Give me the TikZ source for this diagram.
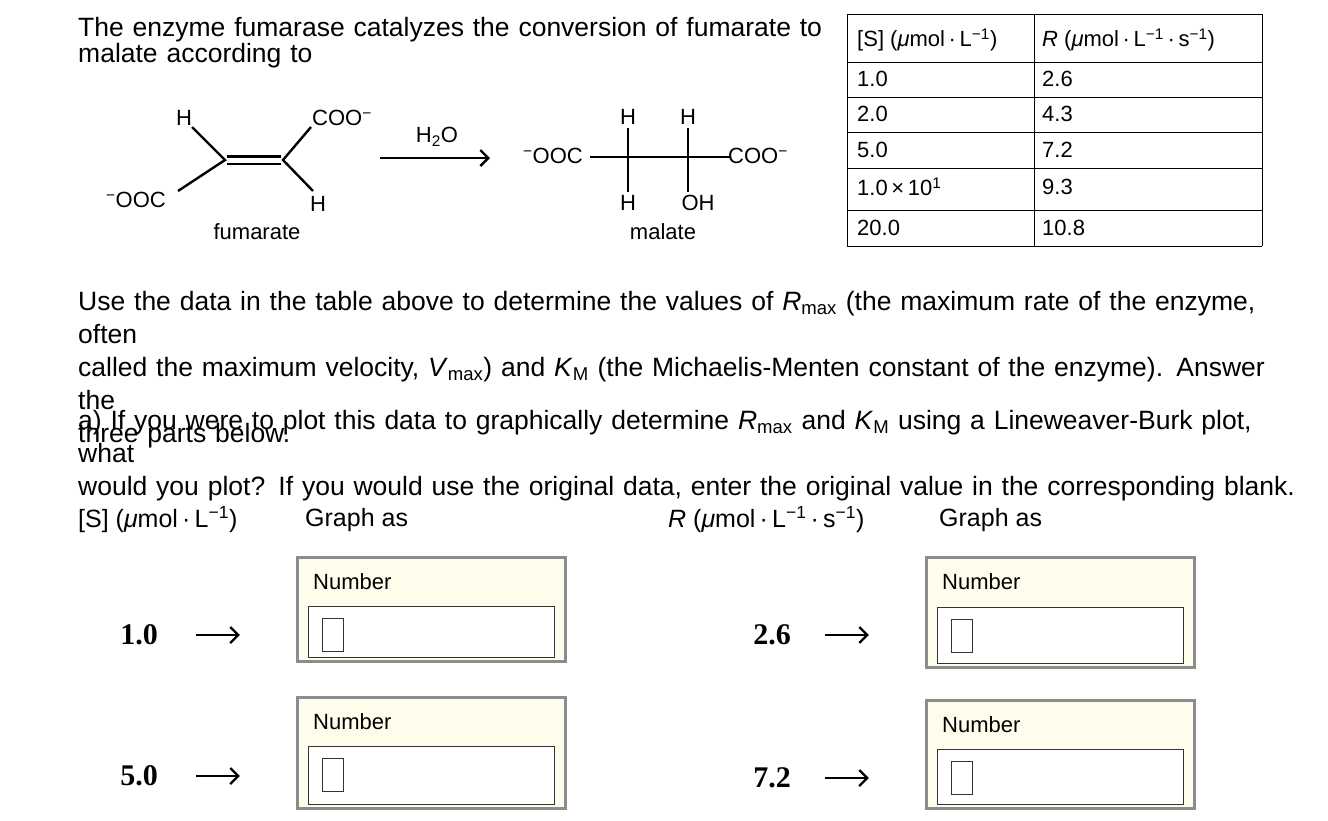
\documentclass[tikz,border=0pt]{standalone}
\usepackage{fontspec}
\usetikzlibrary{arrows.meta}
\setmainfont{Liberation Sans}
\newfontfamily\serifb{Liberation Serif}
\newcommand{\up}[1]{\textsuperscript{#1}}
\newcommand{\dn}[1]{\textsubscript{#1}}
\newcommand{\umol}{(\textit{μ}mol\,·\,L\up{−1})}
\newcommand{\umols}{(\textit{μ}mol\,·\,L\up{−1}\,·\,s\up{−1})}
\begin{document}
\begin{tikzpicture}[x=1pt,y=-1pt,
  txt/.style={font=\fontsize{26.5}{30}\selectfont,inner sep=0,anchor=west},
  sm/.style={font=\fontsize{22}{24}\selectfont,inner sep=0},
  cell/.style={font=\fontsize{22}{24}\selectfont,inner sep=0,anchor=west},
  lab/.style={font=\fontsize{25}{28}\selectfont,inner sep=0,anchor=west},
  bond/.style={line width=2.4pt},
  val/.style={font=\serifb\bfseries\fontsize{30}{32}\selectfont,inner sep=0},
  arr/.style={line width=2.4pt,-{Straight Barb[length=8pt,width=16pt,line width=2.4pt]}},
  outerbox/.style={fill=black!8!yellow!8!white,draw=black!45,line width=3pt},
  innerbox/.style={fill=white,draw=black!80,line width=1pt},
  cursor/.style={draw=black!80,line width=0.8pt}]
\useasboundingbox (0,0) rectangle (1328,820);
\node[txt,anchor=north west,align=left,text width=760,font=\fontsize{26.5}{24}\selectfont] (intro) at (78,17) {The enzyme fumarase catalyzes the conversion of fumarate to\\malate according to};
% table
\foreach \y in {14,62,97,132,168,210,246} \draw[line width=0.9pt] (847,\y) -- (1262,\y);
\foreach \x in {847,1034,1262} \draw[line width=0.9pt] (\x,14) -- (\x,246);
\node[cell] (h1) at (857,40) {[S] \umol};
\node[cell] (h2) at (1042,40) {\textit{R} \umols};
\foreach \a/\b/\y in {1.0/2.6/79,2.0/4.3/114,5.0/7.2/150,{1.0\,×\,10\up{1}}/9.3/187,20.0/10.8/228}{
  \node[cell] at (857,\y) {\a};
  \node[cell] at (1042,\y) {\b};}
% fumarate
\node[sm] (fh1) at (184,118) {H};
\node[sm] (fc) at (342,118) {COO\up{−}};
\node[sm] (fh2) at (318,204) {H};
\node[sm] (fo) at (136,200) {\up{−}OOC};
\coordinate (c1) at (225,160); \coordinate (c2) at (283,160);
\draw[bond] (192,127) -- (c1) -- (178,191);
\draw[bond] (311,127) -- (c2) -- (313,191);
\draw[bond] (227,156.5) -- (281,156.5);
\draw[bond] (227,164) -- (281,164);
\node[sm] (fl) at (257,232) {fumarate};
% arrow
\coordinate (a1) at (380,158); \coordinate (a2) at (490,158);
\draw[arr] (a1) -- (a2);
\node[sm] (w) at (437,137) {H\dn{2}O};
% malate
\node[sm] (mo) at (553,156) {\up{−}OOC};
\node[sm] (mc) at (758,156) {COO\up{−}};
\draw[bond] (590,157) -- (730,157);
\draw[bond] (628,128) -- (628,192);
\draw[bond] (688,128) -- (688,192);
\node[sm] at (628,117) {H};
\node[sm] at (688,117) {H};
\node[sm] at (628,203) {H};
\node[sm] at (698,203) {OH};
\node[sm] (ml) at (663,232) {malate};
% text
\node[txt,anchor=north west,align=left,text width=1220,font=\fontsize{26.5}{33}\selectfont] (q) at (78,291) {Use the data in the table above to determine the values of \textit{R}\dn{max} (the maximum rate of the enzyme, often\\called the maximum velocity, \textit{V}\dn{max}) and \textit{K}\dn{M} (the Michaelis-Menten constant of the enzyme). Answer the\\three parts below.};
\node[txt,anchor=north west,align=left,text width=1220,font=\fontsize{26.5}{33}\selectfont] (qa) at (78,410) {a) If you were to plot this data to graphically determine \textit{R}\dn{max} and \textit{K}\dn{M} using a Lineweaver-Burk plot, what\\would you plot? If you would use the original data, enter the original value in the corresponding blank.};
\node[lab] (l1) at (78,520) {[S] \umol};
\node[lab] (l2) at (305,520) {Graph as};
\node[lab] (l3) at (668,520) {\textit{R} \umols};
\node[lab] (l4) at (939,520) {Graph as};
% boxes
\foreach \n/\x/\ya/\yb/\yi in {A/297/557/661/606,B/297/697/808/746,C/926/557/667/607,D/926/700/808/749}{
  \draw[outerbox] (\x,\ya) rectangle (\x+268,\yb);
  \node[cell] (num\n) at (\x+16,\ya+25) {Number};
  \draw[innerbox] (\x+11,\yi) rectangle (\x+257,\yb-4);
  \draw[cursor] (\x+25,\yi+12) rectangle (\x+46,\yi+45);
}
\node[val] (v1) at (139,635) {1.0};
\node[val] (v2) at (139,776) {5.0};
\node[val] (v3) at (772,635) {2.6};
\node[val] (v4) at (772,778) {7.2};
\foreach \v in {v1,v2} \draw[arr,line width=2.2pt] ([xshift=38pt]\v.east) -- ++(44,0);
\foreach \v in {v3,v4} \draw[arr,line width=2.2pt] ([xshift=34pt]\v.east) -- ++(44,0);
\end{tikzpicture}
\end{document}
